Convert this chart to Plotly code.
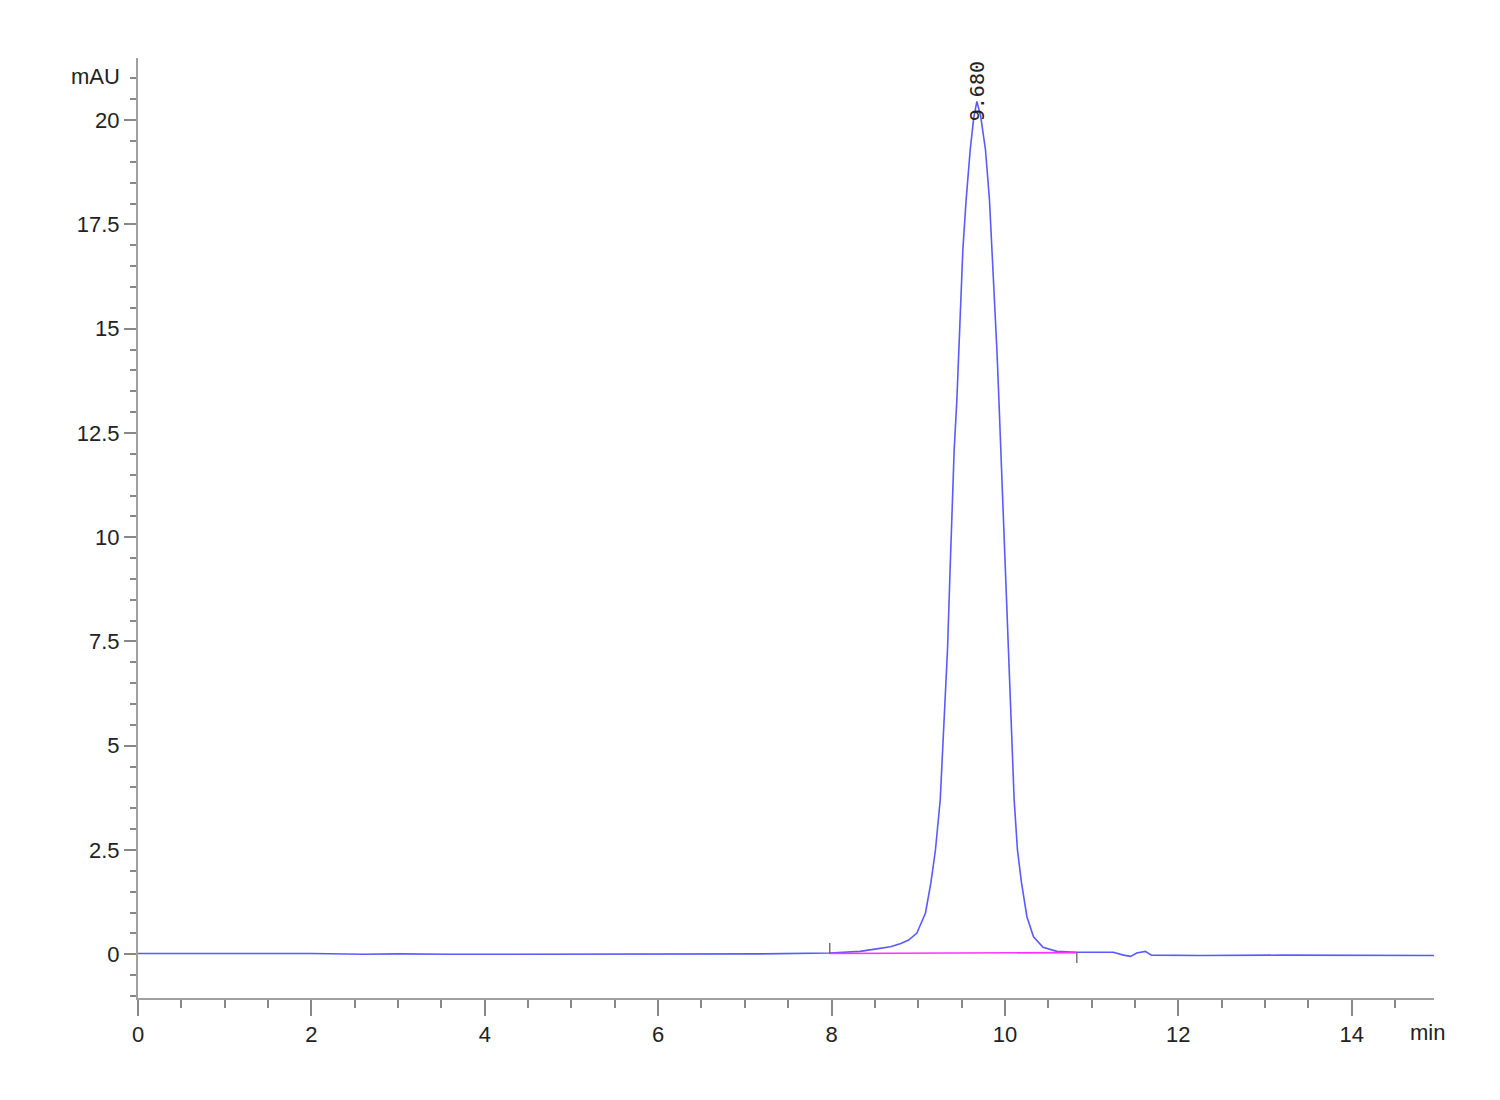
import plotly.graph_objects as go

# chromatogram signal (min, mAU)
time_min = [0.0, 1.0, 2.0, 2.6, 3.0, 3.6, 4.5, 5.5, 6.5, 7.2, 7.98,
            8.33, 8.52, 8.68, 8.80, 8.89, 8.985, 9.084, 9.146, 9.199, 9.254,
            9.292, 9.338, 9.369, 9.395, 9.415, 9.446, 9.469, 9.492, 9.515,
            9.553, 9.600, 9.64, 9.677, 9.72, 9.776, 9.822, 9.853, 9.885,
            9.908, 9.931, 9.954, 9.977, 10.007, 10.038, 10.076, 10.107,
            10.145, 10.192, 10.254, 10.330, 10.44, 10.60, 10.83, 11.25,
            11.37, 11.45, 11.52, 11.62, 11.69, 12.25, 13.2, 14.0, 14.95]
signal_mau = [0.02, 0.02, 0.02, 0.0, 0.01, 0.0, 0.0, 0.0, 0.0, 0.01, 0.03,
              0.07, 0.13, 0.18, 0.26, 0.34, 0.51, 0.99, 1.71, 2.50, 3.70,
              5.31, 7.30, 9.29, 10.90, 12.09, 13.29, 14.49, 15.69, 16.89,
              18.09, 19.29, 20.05, 20.45, 20.10, 19.29, 18.09, 16.89, 15.69,
              14.49, 13.29, 12.09, 10.90, 9.29, 7.30, 5.31, 3.70,
              2.50, 1.71, 0.90, 0.42, 0.17, 0.07, 0.05, 0.05,
              -0.02, -0.05, 0.03, 0.07, -0.02, -0.03, -0.02, -0.03, -0.03]

# integration baseline of the peak
base_t = [7.98, 10.83]
base_y = [0.02, 0.04]
marker_len = 0.25  # mAU

peak_t = 9.680
peak_label = "9.680"

axis_col = "#a0a0a0"
txt_col = "#222222"
tick_font = dict(family="Liberation Sans, Arial, sans-serif",
                 size=22, color=txt_col)

fig = go.Figure()

fig.add_trace(go.Scatter(x=time_min, y=signal_mau, mode="lines",
                         line=dict(color="rgb(90,90,255)", width=1.6),
                         showlegend=False, hoverinfo="x+y"))

fig.add_trace(go.Scatter(x=base_t, y=base_y, mode="lines",
                         line=dict(color="#ff33ff", width=1.6),
                         showlegend=False, hoverinfo="skip"))

# start / end markers of the peak
fig.add_trace(go.Scatter(x=[base_t[0], base_t[0]],
                         y=[base_y[0], base_y[0] + marker_len],
                         mode="lines", line=dict(color="#555555", width=1.2),
                         showlegend=False, hoverinfo="skip"))
fig.add_trace(go.Scatter(x=[base_t[1], base_t[1]],
                         y=[base_y[1], base_y[1] - marker_len],
                         mode="lines", line=dict(color="#555555", width=1.2),
                         showlegend=False, hoverinfo="skip"))

fig.add_annotation(x=peak_t, y=19.93, text=peak_label, textangle=-90,
                   showarrow=False, xanchor="center", yanchor="bottom",
                   font=dict(family="DejaVu Sans Mono, monospace",
                             size=20, color=txt_col))

# unit labels
fig.add_annotation(x=0, xref="paper", y=21.05, text="mAU", showarrow=False,
                   xanchor="right", xshift=-16, font=tick_font)
fig.add_annotation(x=14.65, y=0, yref="paper", text="min", showarrow=False,
                   xanchor="left", yanchor="top", yshift=-20, font=tick_font)

fig.update_xaxes(range=[0, 14.95], dtick=2, tick0=0, showline=True,
                 linecolor=axis_col, linewidth=2, ticks="outside", ticklen=16,
                 tickwidth=1.5, tickcolor="#888888", showgrid=False,
                 zeroline=False, tickfont=tick_font,
                 minor=dict(dtick=0.5, ticks="outside", ticklen=8,
                            tickwidth=1.5, tickcolor="#888888", showgrid=False))
fig.update_yaxes(range=[-1.048, 21.49], dtick=2.5, tick0=0, showline=True,
                 linecolor=axis_col, linewidth=2, ticks="outside", ticklen=12,
                 tickwidth=1.5, tickcolor="#888888", showgrid=False,
                 zeroline=False, tickfont=tick_font,
                 minor=dict(dtick=0.5, ticks="outside", ticklen=6,
                            tickwidth=1.5, tickcolor="#888888", showgrid=False))

fig.update_layout(width=1500, height=1100,
                  margin=dict(l=130, r=74, t=50, b=110),
                  paper_bgcolor="white", plot_bgcolor="white")

fig.write_html("out.html")
